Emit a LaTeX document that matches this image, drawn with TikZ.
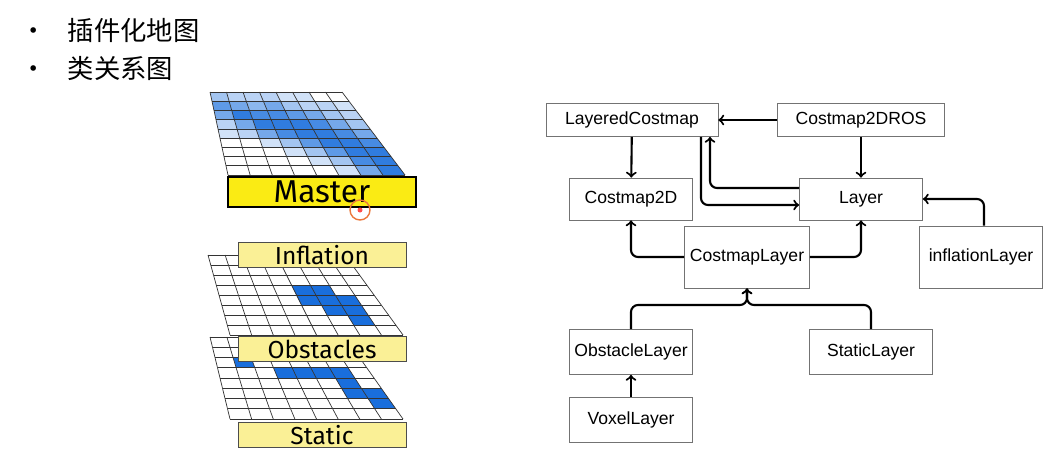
\documentclass[tikz,border=0pt]{standalone}
\usepackage{fontspec}
\setmainfont{Liberation Sans}
\newfontfamily\cjkfont{Noto Sans CJK SC}
\newfontfamily\tagfont{Fira Sans}
\usetikzlibrary{positioning, calc, arrows}
\definecolor{mblue}{RGB}{25,110,220}
\definecolor{tagyellow}{RGB}{250,240,150}
\definecolor{mastyellow}{RGB}{250,235,20}
\definecolor{ringorange}{RGB}{235,120,60}

% grid point: u, v in [0,1] over the current trapezoid
\newcommand{\gpt}[2]{({(1-#2)*(\gA+#1*(\gB-\gA))+#2*(\gC+#1*(\gD-\gC))},{\gT+#2*(\gS-\gT)})}

\begin{document}
\begin{tikzpicture}[x=0.02cm, y=-0.02cm]

		% Estilos
		\tikzstyle{cls} = [draw=black!55, fill=white, minimum width=2.46cm, minimum height=0.84cm, inner sep=0pt, font=\fontsize{10}{12}\selectfont]
		\tikzstyle{dep} = [line width=1.2pt,->,>=to, rounded corners=4pt]
		\tikzstyle{tag} = [draw=black!70, fill=tagyellow, minimum width=3.36cm, minimum height=0.5cm, inner sep=0pt, font=\tagfont\fontsize{14}{15}\selectfont]
		\tikzstyle{bullet} = [anchor=west, inner sep=0pt, font=\cjkfont\fontsize{15}{18}\selectfont]

		\useasboundingbox (0,0) rectangle (1058,454);

		% Texto
		\node (t1) [bullet] at (20,30) {•\hspace{0.8em}插件化地图};
		\node (t2) [bullet] at (20,68) {•\hspace{0.8em}类关系图};

		% Master
		\def\gA{210}\def\gB{342}\def\gC{228}\def\gD{405}\def\gT{92}\def\gS{175}
		\foreach \r [count=\j from 0] in {{40,30,30,30,20,20,0,0},{70,60,50,60,40,30,30,20},{60,90,80,80,70,60,40,30},{30,60,90,90,90,80,60,40},{20,30,60,80,90,90,80,60},{0,0,20,40,70,90,90,80},{0,0,0,20,40,70,90,90},{0,0,0,0,20,40,80,90},{0,0,0,0,0,20,60,90}}
			\foreach \c [count=\i from 0] in \r {
				\pgfmathtruncatemacro\ii{\i+1}\pgfmathtruncatemacro\jj{\j+1}
				\fill[mblue!\c] \gpt{\i/8}{\j/9} -- \gpt{\ii/8}{\j/9} -- \gpt{\ii/8}{\jj/9} -- \gpt{\i/8}{\jj/9} -- cycle;
			}
		\foreach \k in {0,...,8} \draw[black!80, thin] \gpt{\k/8}{0} -- \gpt{\k/8}{1};
		\foreach \k in {0,...,9} \draw[black!80, thin] \gpt{0}{\k/9} -- \gpt{1}{\k/9};
		\node (master) [draw=black, line width=1.5pt, fill=mastyellow, minimum width=3.76cm, minimum height=0.6cm, inner sep=0pt, font=\tagfont\fontsize{18}{19}\selectfont] at (322,192) {Master};
		\draw[ringorange, thick] (360,210) circle (10);
		\fill[red!70] (360,210) circle (2.5);

		% Static
		\def\gA{210}\def\gB{345}\def\gC{230}\def\gD{403}\def\gT{337}\def\gS{419}
		\foreach \i/\j in {1/2,3/3,4/3,5/3,6/3,6/4,6/5,7/5,7/6}
			\fill[mblue] \gpt{\i/8}{\j/8} -- \gpt{(\i+1)/8}{\j/8} -- \gpt{(\i+1)/8}{(\j+1)/8} -- \gpt{\i/8}{(\j+1)/8} -- cycle;
		\foreach \k in {0,...,8} \draw[black!80, thin] \gpt{\k/8}{0} -- \gpt{\k/8}{1};
		\foreach \k in {0,...,8} \draw[black!80, thin] \gpt{0}{\k/8} -- \gpt{1}{\k/8};
		\node (static) [tag] at (322,435) {Static};

		% Inflation
		\def\gA{208}\def\gB{345}\def\gC{230}\def\gD{403}\def\gT{255}\def\gS{335}
		\foreach \i/\j in {4/3,5/3,4/4,5/4,6/4,5/5,6/5,6/6}
			\fill[mblue] \gpt{\i/8}{\j/8} -- \gpt{(\i+1)/8}{\j/8} -- \gpt{(\i+1)/8}{(\j+1)/8} -- \gpt{\i/8}{(\j+1)/8} -- cycle;
		\foreach \k in {0,...,8} \draw[black!80, thin] \gpt{\k/8}{0} -- \gpt{\k/8}{1};
		\foreach \k in {0,...,8} \draw[black!80, thin] \gpt{0}{\k/8} -- \gpt{1}{\k/8};
		\node (inflation) [tag] at (322,255) {Inflation};
		\node (obstacles) [tag] at (322,349) {Obstacles};

		% Classes
		\node (lcm) [cls, minimum width=3.44cm, minimum height=0.66cm] at (632,120) {LayeredCostmap};
		\node (ros) [cls, minimum width=3.34cm, minimum height=0.66cm] at (861,120) {Costmap2DROS};
		\node (c2d) [cls] at (631,199) {Costmap2D};
		\node (layer) [cls] at (861,199) {Layer};
		\node (cml) [cls, minimum width=2.5cm, minimum height=1.24cm] at (747,257) {CostmapLayer};
		\node (infl) [cls, minimum height=1.24cm] at (981,257) {inflationLayer};
		\node (obs) [cls, minimum height=0.9cm] at (631,352) {ObstacleLayer};
		\node (stat) [cls, minimum height=0.9cm] at (871,352) {StaticLayer};
		\node (vox) [cls, minimum height=0.9cm] at (631,420) {VoxelLayer};

		% Relacoes
		\draw[dep] (ros) -- (lcm);
		\draw[dep] (lcm) -- (c2d);
		\draw[dep] (ros) -- (layer);
		\draw[dep] (layer.west |- 0,188) -| (lcm.south -| 710,0);
		\draw[dep] (lcm.south -| 701,0) |- (layer.west |- 0,205);
		\draw[dep] (cml) -| (c2d);
		\draw[dep] (cml) -| (layer);
		\draw[dep] (infl.north -| 984,0) |- (layer);
		\draw[dep] (obs) |- (747,305) -- (cml);
		\draw[dep] (stat) |- (747,305) -- (cml);
		\draw[dep] (vox) -- (obs);

	\end{tikzpicture}
\end{document}
